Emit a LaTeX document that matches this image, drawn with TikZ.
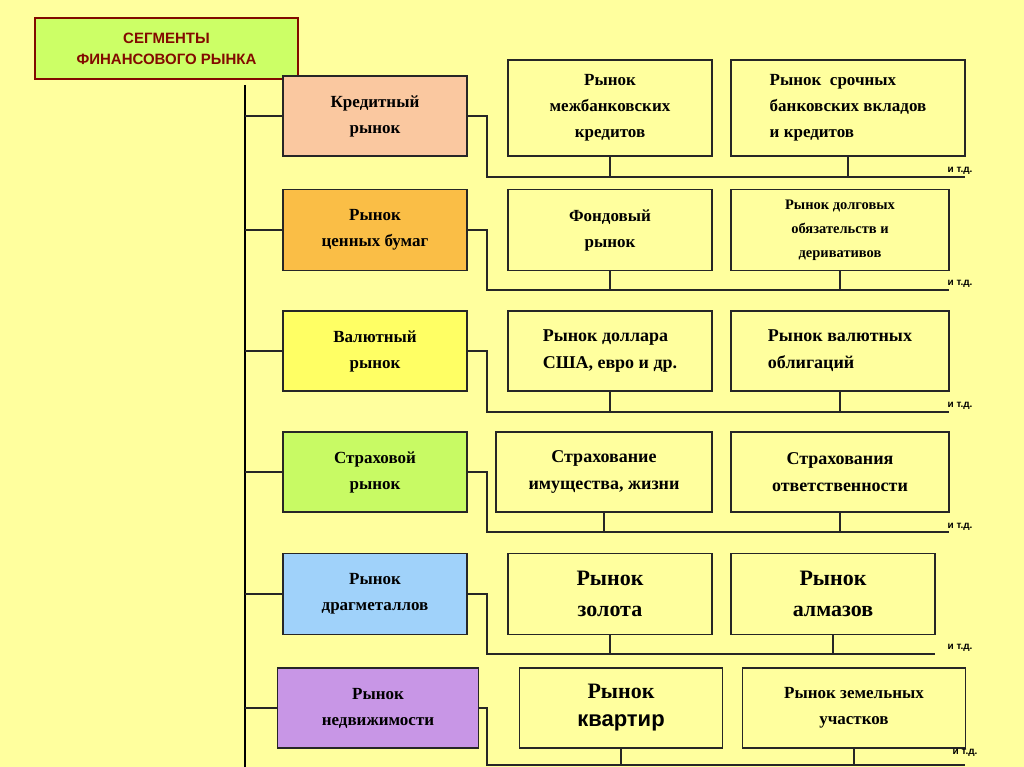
\documentclass[tikz,border=0pt]{standalone}
\usepackage{fontspec}
\setmainfont{Liberation Serif}
\setsansfont{Liberation Sans}
\begin{document}
\begin{tikzpicture}[x=1pt,y=-1pt,
  box/.style={draw=black!85, line width=1.8pt, inner sep=3pt, align=center, font=\bfseries\fontsize{17}{26}\selectfont},
  wire/.style={draw=black!85, line width=1.6pt},
  etc/.style={font=\sffamily\bfseries\fontsize{10}{11}\selectfont, inner sep=0pt}]
\fill[fill={rgb,255:red,255;green,255;blue,158}] (0,0) rectangle (1024,767);
\useasboundingbox (0,0) rectangle (1024,767);
\definecolor{tred}{RGB}{130,10,0}
\node[box, draw=tred, fill={rgb,255:red,204;green,255;blue,102}, text=tred, font=\sffamily\bfseries\fontsize{15}{21}\selectfont, minimum width=263pt, minimum height=61pt] (title) at (166.5,48.5) {СЕГМЕНТЫ\\ФИНАНСОВОГО РЫНКА};
\coordinate (trunkT) at (245,85);
\coordinate (trunkB) at (245,767);
\draw[line width=2.8pt] (trunkT) -- (trunkB);
% left boxes
\node[box, fill={rgb,255:red,250;green,200;blue,160}, minimum width=184pt, minimum height=80pt] (L1) at (375,116) {Кредитный\\рынок};
\node[box, fill={rgb,255:red,250;green,190;blue,70}, minimum width=184pt, minimum height=81pt] (L2) at (375,230) {Рынок\\ценных бумаг};
\node[box, fill={rgb,255:red,255;green,255;blue,100}, minimum width=184pt, minimum height=80pt] (L3) at (375,351) {Валютный\\рынок};
\node[box, fill={rgb,255:red,200;green,250;blue,100}, minimum width=184pt, minimum height=80pt] (L4) at (375,472) {Страховой\\рынок};
\node[box, fill={rgb,255:red,160;green,210;blue,250}, minimum width=184pt, minimum height=81pt] (L5) at (375,594) {Рынок\\драгметаллов};
\node[box, fill={rgb,255:red,200;green,150;blue,230}, minimum width=201pt, minimum height=80pt] (L6) at (378,708) {Рынок\\недвижимости};
\foreach \i in {1,...,6} {\draw[wire] (L\i.west -| trunkT) -- (L\i.west);}
% right boxes
\node[box, minimum width=204pt, minimum height=96pt] (A1) at (610,108) {Рынок\\межбанковских\\кредитов};
\node[box, align=left, minimum width=234pt, minimum height=96pt] (B1) at (848,108) {Рынок\ \ срочных\\банковских вкладов\\и кредитов};
\node[box, minimum width=204pt, minimum height=81pt] (A2) at (610,230) {Фондовый\\рынок};
\node[box, font=\bfseries\fontsize{14.5}{24}\selectfont, minimum width=218pt, minimum height=81pt] (B2) at (840,230) {Рынок долговых\\обязательств и\\деривативов};
\node[box, align=left, font=\bfseries\fontsize{18}{27}\selectfont, minimum width=204pt, minimum height=80pt] (A3) at (610,351) {Рынок доллара\\США, евро и др.};
\node[box, align=left, font=\bfseries\fontsize{18}{27}\selectfont, minimum width=218pt, minimum height=80pt] (B3) at (840,351) {Рынок валютных\\облигаций};
\node[box, font=\bfseries\fontsize{18}{27}\selectfont, minimum width=216pt, minimum height=80pt] (A4) at (604,472) {Страхование\\имущества, жизни};
\node[box, font=\bfseries\fontsize{18}{27}\selectfont, minimum width=218pt, minimum height=80pt] (B4) at (840,472) {Страхования\\ответственности};
\node[box, font=\bfseries\fontsize{22}{31}\selectfont, minimum width=204pt, minimum height=81pt] (A5) at (610,594) {Рынок\\золота};
\node[box, font=\bfseries\fontsize{22}{31}\selectfont, minimum width=204pt, minimum height=81pt] (B5) at (833,594) {Рынок\\алмазов};
\node[box, font=\bfseries\fontsize{22}{28}\selectfont, minimum width=203pt, minimum height=80pt] (A6) at (621,708) {Рынок\\{\sffamily квартир}};
\node[box, minimum width=223pt, minimum height=80pt] (B6) at (854,708) {Рынок земельных\\участков};
% buses
\foreach \i/\y/\e in {1/177/965,2/290/949,3/412/949,4/532/949,5/654/935,6/765/965} {
  \coordinate (bus\i) at (487,\y);
  \coordinate (busE\i) at (\e,\y);
  \draw[wire] (L\i.east) -| (bus\i) -- (busE\i);
  \draw[wire] (A\i.south) -- (A\i.south |- bus\i);
  \draw[wire] (B\i.south) -- (B\i.south |- bus\i);
}
\node[etc] (e1) at (960,171) {и т.д.};
\node[etc] (e2) at (960,284) {и т.д.};
\node[etc] (e3) at (960,406) {и т.д.};
\node[etc] (e4) at (960,527) {и т.д.};
\node[etc] (e5) at (960,648) {и т.д.};
\node[etc] (e6) at (965,753) {и т.д.};
\end{tikzpicture}
\end{document}
